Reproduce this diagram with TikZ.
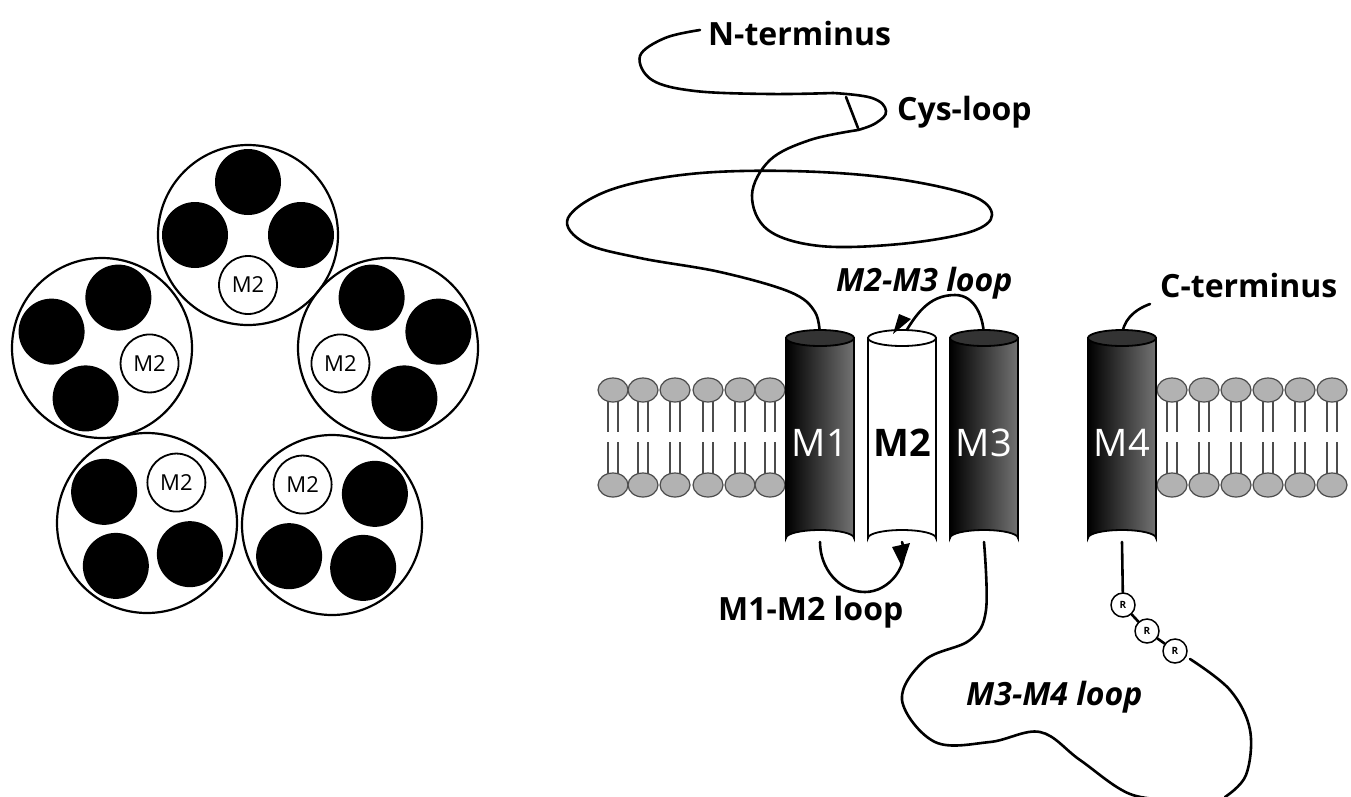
\documentclass[tikz,border=0pt]{standalone}
\usepackage{fontspec}
\setmainfont{Open Sans}
\usetikzlibrary{arrows.meta,calc}
\begin{document}
\begin{tikzpicture}[x=1pt,y=-1pt,
  chain/.style={line width=2.6pt,line cap=round,line join=round},
  blk/.style={fill=black},
  mtwo/.style={draw,line width=1.8pt,fill=white,circle,minimum size=58pt,inner sep=0pt,font=\fontsize{22}{22}\selectfont},
  lab/.style={font=\fontsize{32}{32}\selectfont\bfseries,inner sep=0pt,anchor=west},
  ilab/.style={font=\fontsize{32}{32}\selectfont\bfseries\itshape,inner sep=0pt,anchor=west},
  head/.style={draw=black!70,line width=1.2pt,fill=black!30},
  tail/.style={draw=black!70,line width=2pt},
  cyl/.style={draw,line width=1.8pt,left color=black,right color=black!55},
  rres/.style={draw,line width=1.5pt,fill=white,circle,minimum size=24pt,inner sep=0pt,font=\fontsize{10}{10}\selectfont\bfseries}]
\useasboundingbox (0,0) rectangle (1351,796);
\fill[white] (0,0) rectangle (1351,796);
% ---- pentamer ----
\foreach \a/\cx/\cy [count=\i] in {90/248/235,162/102/348,18/388/348,234/147/523,306/332/525}{
  \coordinate (s\i) at (\cx,\cy);
  \draw[line width=2.2pt] (s\i) circle (90);
  \fill[blk] ($(s\i)+(-\a:53)$) circle (33);
  \fill[blk] ($(s\i)+(-\a-90:53)$) circle (33);
  \fill[blk] ($(s\i)+(-\a+90:53)$) circle (33);
  \node[mtwo] (m2s\i) at ($(s\i)+(-\a-180:50)$) {M2};
}
% ---- lipids ----
\foreach \x in {613,643,675,708,740,770,1172,1204,1236,1268,1300,1332}{
  \draw[tail] (\x-5,398) -- (\x-5,432) (\x+5,398) -- (\x+5,432);
  \draw[tail] (\x-5,442) -- (\x-5,478) (\x+5,442) -- (\x+5,478);
  \draw[head] (\x,390) ellipse (15 and 12);
  \draw[head] (\x,485) ellipse (15 and 12);
}
% ---- chains ----
\coordinate (m1t) at (820,338);
\coordinate (m1b) at (820,542);
\coordinate (m2t) at (902,338);
\coordinate (m2b) at (902,542);
\coordinate (m3t) at (984,338);
\coordinate (m3b) at (984,542);
\coordinate (m4t) at (1122,338);
\coordinate (m4b) at (1122,542);
\draw[chain] plot[smooth,tension=0.6] coordinates {(700,30) (665,38) (640,56) (652,80) (695,91) (770,94) (833,93)};
\draw[chain] plot[smooth,tension=0.7] coordinates {(833,93) (872,98) (886,111) (876,123) (858,130)};
\draw[chain] (846,97) -- (858,128);
\draw[chain] plot[smooth,tension=0.6] coordinates {(858,130) (810,140) (770,160) (752,195) (768,230) (820,246) (900,244) (970,232) (992,215) (970,195) (890,178) (790,171) (690,174) (610,190) (568,218) (585,243) (640,258) (720,272) (790,292) (815,312) (m1t)};
\draw[chain] (m3t) to[out=90,in=0] (955,295) to[out=180,in=60] (m2t);
\draw[chain] (m1b) to[out=-90,in=180] (865,592) to[out=0,in=-70] (m2b);
\fill (m2b) ++(-10,5) -- ++(18,-4) -- ++(-8,24) -- cycle;
\draw[chain] (m4t) to[out=90,in=200] (1150,304);
\node[rres] (r1) at (1123,605) {R};
\node[rres] (r2) at (1147,631) {R};
\node[rres] (r3) at (1175,651) {R};
\draw[chain] (m4b) -- (r1);
\draw[chain] (r1) -- (r2);
\draw[chain] (r2) -- (r3);
\draw[chain] plot[smooth,tension=0.6] coordinates {(m3b) (986,610) (970,640) (925,660) (902,700) (935,742) (990,742) (1040,732) (1080,760) (1130,794) (1180,800)};
\draw[chain] plot[smooth,tension=0.6] coordinates {(1190,659) (1230,690) (1250,730) (1246,775) (1225,797)};
% ---- helices ----
\foreach \n/\xa/\xb in {1/786/854,3/950/1018,4/1088/1156}{
  \draw[cyl] (\xa,338) -- (\xa,538) arc[start angle=180,end angle=360,x radius=34,y radius=8] -- (\xb,338) -- cycle;
  \draw[line width=1.8pt,fill=black!80] ({(\xa+\xb)/2},338) ellipse (34 and 8);
}
\draw[line width=1.8pt,fill=white] (868,338) -- (868,538) arc[start angle=180,end angle=360,x radius=34,y radius=8] -- (936,338) -- cycle;
\draw[line width=1.8pt,fill=white] (902,338) ellipse (34 and 8);
\fill (m2t) ++(-9,-4) -- ++(6,-20) -- ++(12,5) -- cycle;
\node[font=\fontsize{38}{38}\selectfont,text=white] (hm1) at (820,443) {M1};
\node[font=\fontsize{38}{38}\selectfont\bfseries] (hm2) at (902,443) {M2};
\node[font=\fontsize{38}{38}\selectfont,text=white] (hm3) at (984,443) {M3};
\node[font=\fontsize{38}{38}\selectfont,text=white] (hm4) at (1122,443) {M4};
% ---- labels ----
\node[lab] (nt) at (708,33) {N-terminus};
\node[lab] (cys) at (897,112) {Cys-loop};
\node[ilab] (l23) at (836,283) {M2-M3 loop};
\node[lab] (ct) at (1160,285) {C-terminus};
\node[lab] (l12) at (718,612) {M1-M2 loop};
\node[ilab] (l34) at (966,697) {M3-M4 loop};
\end{tikzpicture}
\end{document}
